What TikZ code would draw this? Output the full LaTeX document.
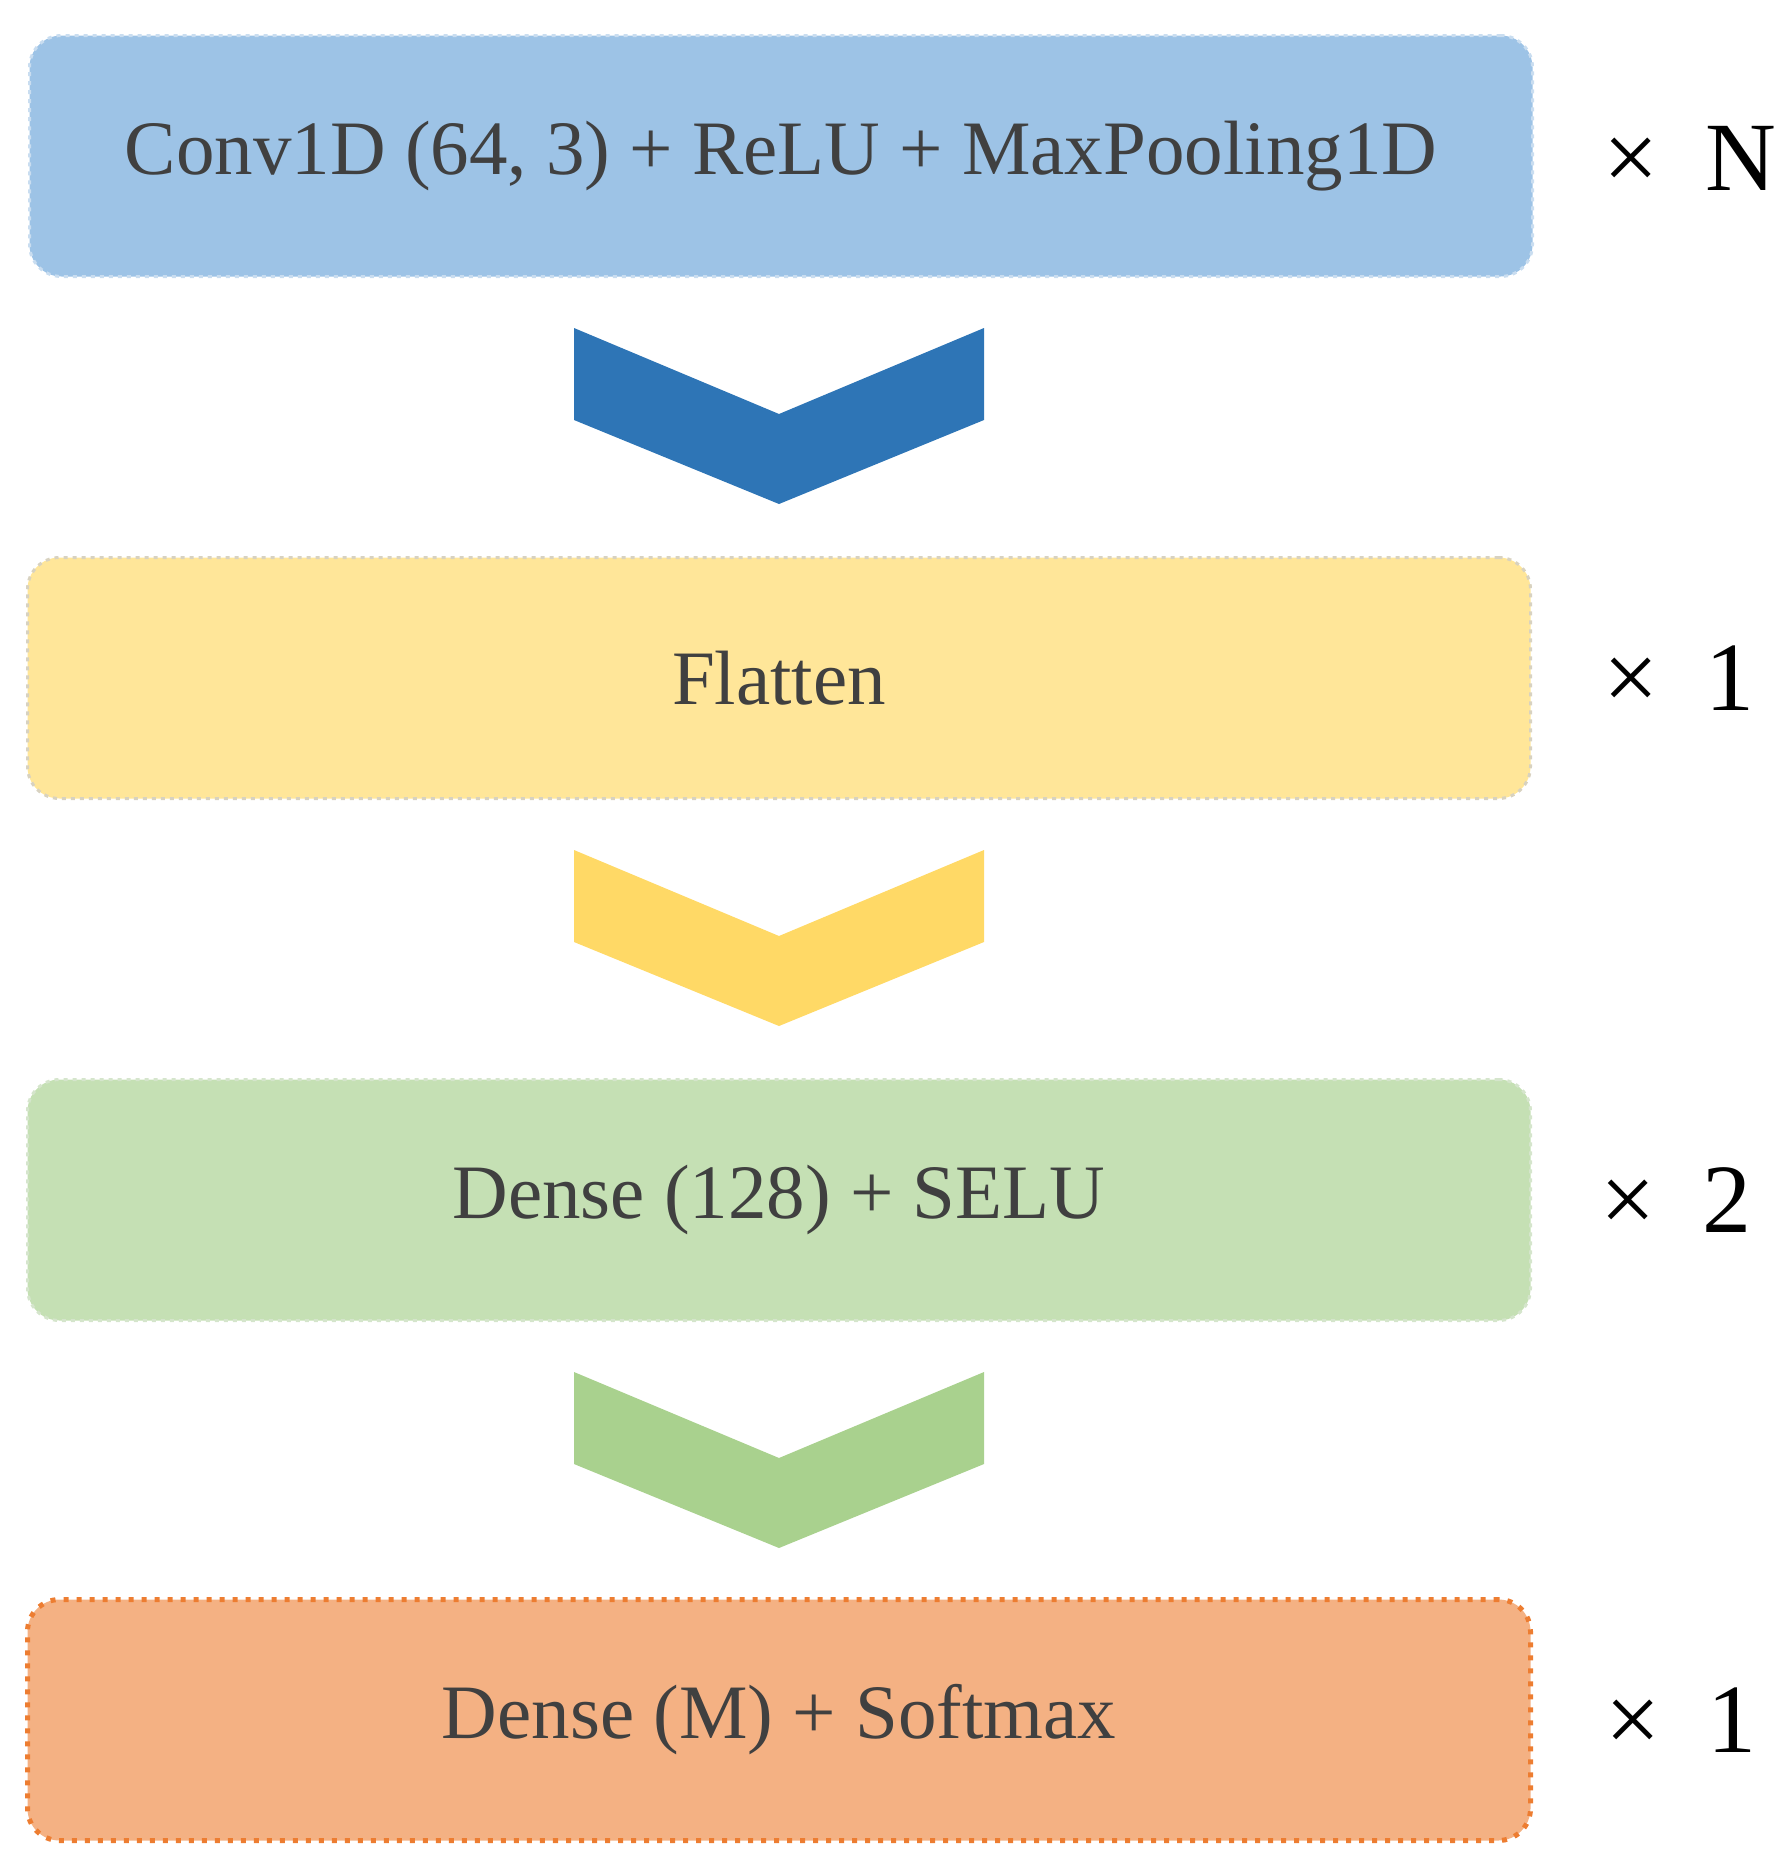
\documentclass[tikz,border=0pt]{standalone}
\usepackage{fontspec}
\setmainfont{Liberation Serif}
\definecolor{bluefill}{HTML}{9DC3E6}
\definecolor{blueedge}{HTML}{C9DDF0}
\definecolor{yellowfill}{HTML}{FFE699}
\definecolor{yellowedge}{HTML}{D8D2C0}
\definecolor{greenfill}{HTML}{C5E0B4}
\definecolor{greenedge}{HTML}{D5E5CC}
\definecolor{orangefill}{HTML}{F4B183}
\definecolor{orangeedge}{HTML}{ED7D31}
\definecolor{chevblue}{HTML}{2E75B6}
\definecolor{chevyellow}{HTML}{FFD966}
\definecolor{chevgreen}{HTML}{A9D18E}
\definecolor{txt}{HTML}{404040}
\begin{document}
\begin{tikzpicture}[x=1pt,y=-1pt,
  layerbox/.style={rectangle, rounded corners=32pt, minimum width=1503pt, minimum height=241pt,
    inner sep=0pt, text=txt, font=\fontsize{77}{90}\selectfont, line width=3pt, dash pattern=on 4pt off 5pt},
  reps/.style={font=\fontsize{98}{110}\selectfont, text=black, anchor=west, inner sep=0pt}]
\useasboundingbox (0,0) rectangle (1791,1869);
\node[layerbox, fill=bluefill, draw=blueedge] (b1) at (781,156) {\raisebox{-6pt}{Conv1D (64, 3) + ReLU + MaxPooling1D}};
\node[layerbox, fill=yellowfill, draw=yellowedge] (b2) at (779,678) {\raisebox{-4pt}{Flatten}};
\node[layerbox, fill=greenfill, draw=greenedge] (b3) at (779,1200) {\raisebox{-5pt}{Dense (128) + SELU}};
\node[layerbox, fill=orangefill, draw=orangeedge, line width=5pt, dash pattern=on 5pt off 8pt] (b4) at (779,1720) {\raisebox{-5pt}{Dense (M) + Softmax}};
\node[reps] (r1) at (1603,158) {×\hspace{0.48em}N};
\node[reps] (r2) at (1603,678) {×\hspace{0.48em}1};
\node[reps] (r3) at (1600,1200) {×\hspace{0.48em}2};
\node[reps] (r4) at (1605,1720) {×\hspace{0.48em}1};
\foreach \dy/\col in {0/chevblue, 522/chevyellow, 1044/chevgreen} {
  \fill[\col] (574,328+\dy) -- (779,414+\dy) -- (984,328+\dy) -- (984,420+\dy) -- (779,504+\dy) -- (574,420+\dy) -- cycle;
}
\end{tikzpicture}
\end{document}
